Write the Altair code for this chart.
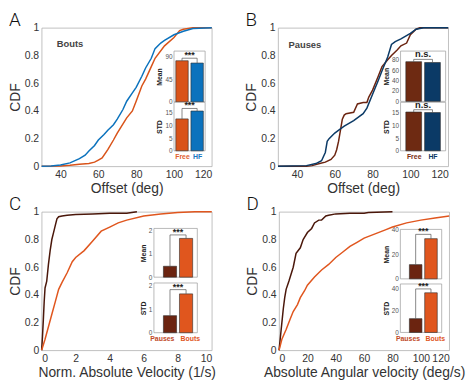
import altair as alt
import pandas as pd

# ---------------- data ----------------
# Panel A - Bouts, offset CDF
a_free_x = [30, 40, 45, 50, 55, 58, 60, 62, 65, 68, 70, 75, 78, 80, 83, 85, 88, 90, 95, 100, 103, 105, 110, 120]
a_free_y = [0, 0.003, 0.008, 0.015, 0.02, 0.03, 0.045, 0.06, 0.12, 0.19, 0.24, 0.35, 0.40, 0.47, 0.58, 0.63, 0.72, 0.78, 0.87, 0.93, 0.98, 0.99, 1, 1]
a_hf_x = [30, 35, 40, 45, 50, 53, 55, 58, 60, 63, 65, 68, 70, 73, 75, 78, 80, 83, 85, 88, 90, 93, 95, 100, 105, 110, 120]
a_hf_y = [0, 0.003, 0.01, 0.025, 0.055, 0.08, 0.11, 0.15, 0.19, 0.23, 0.26, 0.30, 0.34, 0.41, 0.47, 0.53, 0.57, 0.65, 0.71, 0.78, 0.85, 0.89, 0.91, 0.95, 0.975, 0.995, 1]
a_cats = ["Free", "HF"]
a_mean = [81, 76.5]
a_std = [12.5, 15.6]

# Panel B - Pauses, offset CDF
b_free_x = [30, 45, 48, 52, 55, 58, 60, 61, 62, 63, 64, 65, 66, 70, 72, 75, 77, 78, 80, 83, 85, 88, 90, 93, 95, 98, 100, 103, 105, 120]
b_free_y = [0, 0, 0.005, 0.02, 0.03, 0.05, 0.08, 0.12, 0.18, 0.26, 0.34, 0.37, 0.38, 0.39, 0.45, 0.46, 0.46, 0.50, 0.55, 0.65, 0.72, 0.77, 0.80, 0.84, 0.87, 0.89, 0.95, 0.99, 1, 1]
b_hf_x = [30, 45, 50, 53, 55, 56, 57, 60, 63, 65, 70, 75, 77, 80, 83, 85, 88, 90, 92, 95, 100, 103, 107, 120]
b_hf_y = [0, 0.005, 0.02, 0.04, 0.10, 0.18, 0.20, 0.24, 0.27, 0.29, 0.33, 0.38, 0.42, 0.52, 0.62, 0.69, 0.79, 0.88, 0.90, 0.92, 0.96, 0.99, 1, 1]
b_cats = ["Free", "HF"]
b_mean = [76.5, 75]
b_std = [15.2, 15.0]

# Panel C - normalised absolute velocity CDF
c_pause_x = [0, 0.05, 0.1, 0.15, 0.2, 0.3, 0.4, 0.5, 0.6, 0.7, 0.8, 0.9, 1.0, 1.2, 1.5, 2, 3, 4, 5, 5.3, 5.6]
c_pause_y = [0, 0.10, 0.22, 0.35, 0.45, 0.50, 0.62, 0.72, 0.80, 0.85, 0.90, 0.95, 0.965, 0.97, 0.975, 0.98, 0.985, 0.99, 0.99, 0.995, 1.0]
c_bout_x = [0, 0.2, 0.4, 0.6, 0.8, 1.0, 1.2, 1.5, 1.8, 2.0, 2.5, 3, 3.5, 4, 4.5, 5, 6, 7, 8, 9, 10]
c_bout_y = [0, 0.08, 0.17, 0.26, 0.35, 0.44, 0.49, 0.56, 0.64, 0.67, 0.72, 0.79, 0.86, 0.89, 0.92, 0.94, 0.97, 0.985, 0.995, 1, 1]
c_cats = ["Pauses", "Bouts"]
c_mean = [0.47, 1.67]
c_std = [0.72, 1.64]

# Panel D - absolute angular velocity CDF
d_pause_x = [0, 1, 2, 3, 4, 5, 7, 10, 12, 15, 17, 20, 23, 25, 28, 30, 33, 35, 40, 50, 60, 63, 80]
d_pause_y = [0, 0.10, 0.20, 0.30, 0.38, 0.44, 0.50, 0.60, 0.70, 0.74, 0.80, 0.85, 0.88, 0.92, 0.94, 0.94, 0.97, 0.975, 0.985, 0.99, 0.99, 0.995, 1.0]
d_bout_x = [0, 2, 5, 8, 10, 13, 15, 18, 20, 25, 30, 35, 40, 45, 50, 55, 60, 65, 70, 75, 80, 90, 100, 110, 120]
d_bout_y = [0, 0.08, 0.15, 0.23, 0.28, 0.33, 0.38, 0.43, 0.47, 0.53, 0.58, 0.62, 0.67, 0.71, 0.75, 0.78, 0.81, 0.83, 0.85, 0.87, 0.89, 0.92, 0.94, 0.955, 0.97]
d_cats = ["Pauses", "Bouts"]
d_mean = [11.5, 32.5]
d_std = [12.5, 36]

cdf_ticks = [0, 0.2, 0.4, 0.6, 0.8, 1]

FONT = "Liberation Sans"
TXT = "#333333"

ORANGE = "#D95319"
BLUE = "#0B72BD"
BROWN = "#6B2410"
NAVY = "#0B3A66"
BOUT = "#E0561E"


def long_df(series):
    rows = []
    for name, xs, ys in series:
        for i, (x, y) in enumerate(zip(xs, ys)):
            rows.append({"series": name, "x": x, "cdf": y, "i": i})
    return pd.DataFrame(rows)


def main_layer(letter, series, colors, xdom, xticks, xtitle, note, W, H):
    df = long_df(series)
    names = [s[0] for s in series]
    xsc = alt.Scale(domain=xdom, nice=False, zero=False)
    ysc = alt.Scale(domain=[0, 1], nice=False)
    xax = alt.Axis(values=xticks, title=xtitle, orient="bottom",
                   labelFontSize=10.5, titleFontSize=14, labelPadding=3,
                   titlePadding=2, titleFontWeight="normal")
    yax = alt.Axis(values=cdf_ticks, format="~g", title="CDF", orient="left",
                   labelFontSize=10.5, titleFontSize=14, labelPadding=3,
                   titlePadding=2, titleFontWeight="normal")
    lines = alt.Chart(df).mark_line(strokeWidth=1.5).encode(
        x=alt.X("x:Q", scale=xsc, axis=xax),
        y=alt.Y("cdf:Q", scale=ysc, axis=yax),
        color=alt.Color("series:N", scale=alt.Scale(domain=names, range=colors), legend=None),
        order="i:Q",
    )
    layers = [lines]
    if note is not None:
        ndf = pd.DataFrame({"t": [note[0]], "x": [note[1]], "cdf": [note[2]]})
        layers.append(alt.Chart(ndf).mark_text(align="left", baseline="middle", fontSize=9.5,
                                               fontWeight="bold", color="#444444", font=FONT).encode(
            x=alt.X("x:Q", scale=xsc, axis=xax), y=alt.Y("cdf:Q", scale=ysc, axis=yax), text="t:N"))
    ldf = pd.DataFrame({"t": [letter]})
    layers.append(alt.Chart(ldf).mark_text(align="left", baseline="alphabetic", fontSize=19,
                                           font="Roboto", fontWeight=300, color="#111111").encode(
        text="t:N", x=alt.value(-33), y=alt.value(-2)))
    return alt.layer(*layers)


def inset(cats, vals, level, sig, xdom, half, px, py, ytop, yticks, ytitle,
          bar_colors, label_colors, show_x, split_labels, H):
    df = pd.DataFrame({"cat": cats, "val": vals, "pos": [1, 2]})
    xs = alt.Scale(domain=xdom, range=[px[0], px[1]], nice=False, zero=False)
    ys = alt.Scale(domain=[0, ytop], range=[py[1], py[0]], nice=False, zero=False)
    yaxis = alt.Axis(orient="left", offset=-px[0], values=yticks, title=ytitle,
                     labelExpr="'' + datum.value",
                     labelFontSize=6.5, labelColor="#555555", labelPadding=2,
                     titleFontSize=7, titleFontWeight="bold", titleColor="#222222",
                     titlePadding=2, domain=False, ticks=False)
    if show_x:
        extra = {}
        if split_labels:
            extra = dict(
                labelAlign={"condition": {"test": "datum.value == 1", "value": "right"}, "value": "left"},
                labelOffset={"condition": {"test": "datum.value == 1", "value": 4}, "value": -6},
            )
        xaxis = alt.Axis(orient="bottom", offset=-(H - py[1]), values=[1, 2],
                         labelExpr=f"datum.value == 1 ? '{cats[0]}' : '{cats[1]}'",
                         labelFontSize=7, labelFontWeight="bold", labelPadding=2,
                         labelColor={"condition": {"test": "datum.value == 1", "value": label_colors[0]},
                                     "value": label_colors[1]},
                         title=None, domain=False, ticks=False, labelOverlap=False, **extra)
    else:
        xaxis = None

    def X(f):
        return alt.X(f, scale=xs, axis=xaxis)

    def Y(f):
        return alt.Y(f, scale=ys, axis=yaxis)

    fdf = pd.DataFrame({"x0": [xdom[0]], "x1": [xdom[1]], "y0": [0], "y1": [ytop]})
    frame = alt.Chart(fdf).mark_rect(fill="white", stroke="#9a9a9a", strokeWidth=0.7).encode(
        x=X("x0:Q"), x2="x1:Q", y=Y("y0:Q"), y2="y1:Q")
    bars = alt.Chart(df).transform_calculate(
        b0=f"datum.pos - {half}", b1=f"datum.pos + {half}", z="0"
    ).mark_rect(stroke="#2a2a2a", strokeWidth=0.6).encode(
        x=X("b0:Q"), x2="b1:Q", y=Y("val:Q"), y2="z:Q",
        color=alt.Color("cat:N", scale=alt.Scale(domain=cats, range=bar_colors), legend=None))
    legs = alt.Chart(df).transform_calculate(lev=f"{level}").mark_rule(
        color="#555555", strokeWidth=0.7).encode(
        x=X("pos:Q"), y=Y("val:Q"), y2="lev:Q")
    hdf = pd.DataFrame({"p0": [1], "p1": [2], "lev": [level], "t": [sig], "pm": [1.5]})
    topr = alt.Chart(hdf).mark_rule(color="#555555", strokeWidth=0.7).encode(
        x=X("p0:Q"), x2="p1:Q", y=Y("lev:Q"))
    star = alt.Chart(hdf).mark_text(baseline="bottom", dy=2 if sig == "***" else 0,
                                    fontSize=9 if sig == "***" else 9.5,
                                    fontWeight="bold", color="#222222", font=FONT).encode(
        x=X("pm:Q"), y=Y("lev:Q"), text="t:N")
    return alt.layer(frame, bars, legs, topr, star)


def panel(letter, series, colors, xdom, xticks, xtitle, note, ins, W, H):
    m = main_layer(letter, series, colors, xdom, xticks, xtitle, note, W, H)
    px = [ins["fx"][0] * W, ins["fx"][1] * W]
    pm = [ins["fm"][0] * H, ins["fm"][1] * H]
    ps = [ins["fs"][0] * H, ins["fs"][1] * H]
    mean_l = inset(ins["cats"], ins["mean"], ins["mlev"], ins["sig"], ins["xdom"], ins["half"],
                   px, pm, ins["mtop"], ins["mticks"], "Mean", ins["bc"], ins["lc"], False,
                   ins["split"], H)
    std_l = inset(ins["cats"], ins["std"], ins["slev"], ins["sig"], ins["xdom"], ins["half"],
                  px, ps, ins["stop"], ins["sticks"], "STD", ins["bc"], ins["lc"], True,
                  ins["split"], H)
    return alt.layer(m, mean_l, std_l).resolve_scale(
        x="independent", y="independent", color="independent"
    ).resolve_axis(x="independent", y="independent").properties(width=W, height=H)


WL, WR, H = 172, 172, 140

A = panel("A", [("Free", a_free_x, a_free_y), ("HF", a_hf_x, a_hf_y)], [ORANGE, BLUE],
          [30, 120], [40, 60, 80, 100, 120], "Offset (deg)", ("Bouts", 38, 0.88),
          dict(cats=a_cats, mean=a_mean, std=a_std, mlev=86, slev=16.6, sig="***",
               xdom=[0.47, 2.53], half=0.41, fx=[0.778, 0.961], fm=[0.168, 0.535], fs=[0.538, 0.888],
               mtop=100, mticks=[0, 45, 90], stop=19, sticks=[0, 5, 10, 15],
               bc=[ORANGE, BLUE], lc=["#E0602E", "#1A75C0"], split=False), WL, H)

B = panel("B", [("Free", b_free_x, b_free_y), ("HF", b_hf_x, b_hf_y)], [BROWN, NAVY],
          [30, 120], [40, 60, 80, 100, 120], "Offset (deg)", ("Pauses", 35.5, 0.875),
          dict(cats=b_cats, mean=b_mean, std=b_std, mlev=81, slev=16.1, sig="n.s.",
               xdom=[0.3, 2.7], half=0.42, fx=[0.72, 0.985], fm=[0.168, 0.531], fs=[0.538, 0.888],
               mtop=97, mticks=[0, 20, 40, 60, 80], stop=19, sticks=[0, 5, 10, 15],
               bc=["#6E2A12", NAVY], lc=["#7A2E12", NAVY], split=False), WR, H)

C = panel("C", [("Pauses", c_pause_x, c_pause_y), ("Bouts", c_bout_x, c_bout_y)], ["#4A170A", BOUT],
          [0, 10], [0, 2, 4, 6, 8, 10], "Norm. Absolute Velocity (1/s)", None,
          dict(cats=c_cats, mean=c_mean, std=c_std, mlev=1.82, slev=1.82, sig="***",
               xdom=[0.0, 2.7], half=0.41, fx=[0.66, 0.915], fm=[0.12, 0.472], fs=[0.514, 0.873],
               mtop=2.1, mticks=[0, 1, 2], stop=2.1, sticks=[0, 1, 2],
               bc=["#6B2410", BOUT], lc=["#C04A28", BOUT], split=True), WL, H)

D = panel("D", [("Pauses", d_pause_x, d_pause_y), ("Bouts", d_bout_x, d_bout_y)], ["#4A170A", BOUT],
          [0, 120], [0, 20, 40, 60, 80, 100, 120], "Absolute Angular velocity (deg/s)", None,
          dict(cats=d_cats, mean=d_mean, std=d_std, mlev=36, slev=39.5, sig="***",
               xdom=[0.0, 2.7], half=0.41, fx=[0.713, 0.956], fm=[0.127, 0.484], fs=[0.521, 0.871],
               mtop=40, mticks=[0, 20, 40], stop=44, sticks=[0, 20, 40],
               bc=["#6B2410", BOUT], lc=["#C04A28", BOUT], split=True), WR, H)

top = alt.hconcat(A, B, spacing=29)
bottom = alt.hconcat(C, D, spacing=29)
chart = alt.vconcat(top, bottom, spacing=-2).properties(
    padding={"left": 0, "top": 0, "right": 0, "bottom": 0}
).configure_view(stroke="#b0b0b0", strokeWidth=0.8).configure_axis(
    labelFont=FONT, titleFont=FONT, grid=False, domain=False, ticks=False,
    labelColor=TXT, titleColor=TXT
).configure_text(font=FONT)

chart.save("out.html", embed_options={"renderer": "svg", "actions": False})
